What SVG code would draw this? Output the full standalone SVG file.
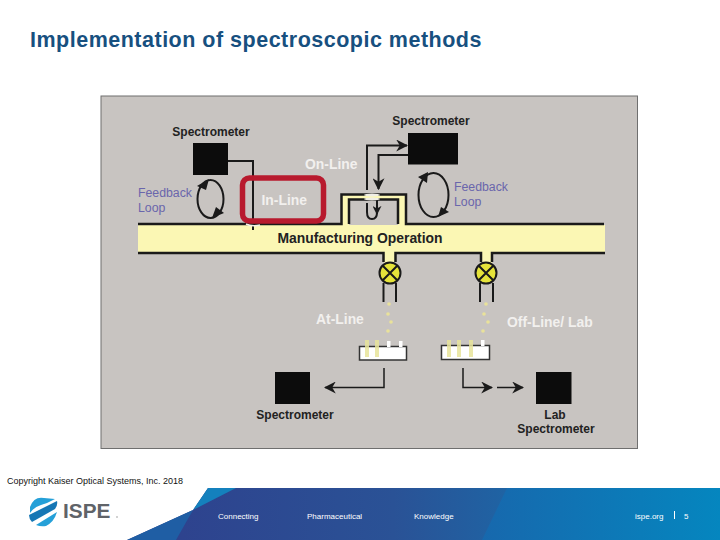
<svg xmlns="http://www.w3.org/2000/svg" width="720" height="540" viewBox="0 0 720 540">
<defs>
<linearGradient id="foot" x1="0" y1="0" x2="1" y2="0"><stop offset="0" stop-color="#2f3f8c"/><stop offset="0.45" stop-color="#2a5296"/><stop offset="1" stop-color="#0a84bd"/></linearGradient>
<linearGradient id="foot2" x1="0" y1="0" x2="1" y2="0"><stop offset="0" stop-color="#1768ad"/><stop offset="1" stop-color="#0586bf"/></linearGradient>
<marker id="ah" viewBox="0 0 10 10" refX="9" refY="5" markerWidth="12" markerHeight="12" markerUnits="userSpaceOnUse" orient="auto"><path d="M0 0L10 5L0 10L3 5Z" fill="#1a1a1a"/></marker>
<marker id="ahs" viewBox="0 0 10 10" refX="9" refY="5" markerWidth="9" markerHeight="9" markerUnits="userSpaceOnUse" orient="auto"><path d="M0 0L10 5L0 10L3 5Z" fill="#1a1a1a"/></marker>
</defs>
<style>
text{font-family:"Liberation Sans",Arial,sans-serif}
.b{font-weight:bold;font-size:12px;fill:#222}
.w{font-weight:bold;font-size:13.900px;fill:#f2f0ee}
.f{font-size:12.300px;fill:#6a66ac}
.ft{font-size:8px;fill:#fff}
.ln{fill:none;stroke:#1a1a1a;stroke-width:2}
.thin{fill:none;stroke:#1a1a1a;stroke-width:1.500}
.pipe{fill:none;stroke:#1a1a1a;stroke-width:2.500}
.box{fill:#0c0c0c}
.drop{fill:#e9e29a}
.tube{fill:#e8e49a;opacity:.85}
.tw{fill:#fff}
</style>
<rect width="720" height="540" fill="#fff"/>
<text x="30" y="47" font-size="21.500" font-weight="bold" fill="#17507f" letter-spacing=".5">Implementation of spectroscopic methods</text>
<rect x="101" y="96" width="536.500" height="352.500" fill="#c8c4c1" stroke="#6f6f6f" stroke-width="1"/>

<g id="manufacturing">
<path d="M138 225H342V195H405V225H605V253H138Z" fill="#fbf7b4"/>
<rect x="349" y="199" width="49" height="26" fill="#c8c4c1"/>
<rect x="384" y="252" width="11" height="12" fill="#fbf7b4"/>
<rect x="482" y="252" width="10" height="12" fill="#fbf7b4"/>
<path class="pipe" d="M138 224H341.500V194.500H406V224H604"/>
<path class="pipe" d="M349 224V199.500H398V224"/>
<path class="pipe" d="M138 253H383.500V262M395.500 262V253H481V262M492 262V253H605"/>
<text x="360" y="243" text-anchor="middle" font-size="13.900" font-weight="bold" fill="#222">Manufacturing Operation</text>
</g>

<g id="valve-left"><circle cx="390" cy="273" r="10.500" fill="#e5e33a" stroke="#1a1a1a" stroke-width="2"/><path class="ln" d="M383 266L397 280M397 266L383 280"/><path class="ln" d="M383.500 283V302M396 283V302"/></g>
<g id="valve-right"><circle cx="486" cy="273" r="10.500" fill="#e5e33a" stroke="#1a1a1a" stroke-width="2"/><path class="ln" d="M479 266L493 280M493 266L479 280"/><path class="ln" d="M480 283V302M493 283V302"/></g>

<g id="connectors">
<path class="ln" d="M228 161H253V230"/>
<path class="ln" d="M367 190V145.500H407" marker-end="url(#ah)"/>
<path class="ln" d="M408 155H378.500V189" marker-end="url(#ah)"/>
<path class="ln" d="M367 203V212Q367 219 372 219T377 212"/>
<path class="ln" d="M377 200V214" marker-end="url(#ahs)"/>
<path class="thin" d="M384 368V387.500H325" marker-end="url(#ah)"/>
<path class="thin" d="M463 368V387.500H492" marker-end="url(#ah)"/>
<path class="thin" d="M497 387.500H523" marker-end="url(#ah)"/>
<path d="M246 224Q252 227 260 225" fill="none" stroke="#f4f2e8" stroke-width="1.500"/>
<ellipse cx="372" cy="195" rx="8" ry="1.500" fill="#f0eee6"/><ellipse cx="372" cy="199" rx="8" ry="1.500" fill="#f0eee6"/>
</g>

<g id="loop-left"><ellipse cx="210.500" cy="199" rx="13" ry="19" class="ln" stroke-width="2.500"/><path d="M197 186L209 179L206 190Z" fill="#1a1a1a"/><path d="M224 213L212 218L216 207Z" fill="#1a1a1a"/></g>
<g id="loop-right"><ellipse cx="433.500" cy="195" rx="15" ry="22" class="ln"/><path d="M418 177L428 172L427 183Z" fill="#1a1a1a"/><path d="M449 212L438 217L441 207Z" fill="#1a1a1a"/></g>

<g id="spectrometer-inline"><rect class="box" x="193" y="143" width="35" height="32"/><text class="b" x="211" y="136" text-anchor="middle">Spectrometer</text></g>
<g id="spectrometer-online"><rect class="box" x="408" y="133" width="50" height="31.500"/><text class="b" x="431" y="125" text-anchor="middle">Spectrometer</text></g>
<g id="spectrometer-atline"><rect class="box" x="275" y="372" width="35" height="32"/><text class="b" x="295" y="419" text-anchor="middle">Spectrometer</text></g>
<g id="spectrometer-lab"><rect class="box" x="536" y="372" width="35.500" height="32"/><text class="b" x="555" y="419" text-anchor="middle">Lab</text><text class="b" x="556" y="433" text-anchor="middle">Spectrometer</text></g>

<g id="feedback-left"><text class="f" x="138" y="197">Feedback</text><text class="f" x="138" y="212">Loop</text></g>
<g id="feedback-right"><text class="f" x="454" y="191">Feedback</text><text class="f" x="454" y="206">Loop</text></g>

<g id="inline-label"><rect x="242.500" y="178" width="81" height="43" rx="7" fill="none" stroke="#b81a2e" stroke-width="5.500"/><text class="w" x="261.500" y="205">In-Line</text></g>
<text class="w" x="305" y="168.500">On-Line</text>
<text class="w" x="316" y="324">At-Line</text>
<text class="w" x="507" y="327">Off-Line/ Lab</text>

<g id="samples-left">
<circle class="drop" cx="389" cy="304" r="1.800"/><circle class="drop" cx="388" cy="314" r="1.800"/><circle class="drop" cx="391" cy="322" r="1.800"/><circle class="drop" cx="388" cy="331" r="1.800"/>
<rect x="359.500" y="346.500" width="47" height="13.500" fill="#fff" stroke="#333" stroke-width="1.500"/>
<rect class="tube" x="365" y="340" width="4" height="17"/><rect class="tube" x="375" y="340" width="4" height="17"/><rect class="tw" x="387" y="341" width="3.500" height="6"/><rect class="tw" x="399" y="341" width="3.500" height="6"/>
</g>
<g id="samples-right">
<circle class="drop" cx="486" cy="304" r="1.800"/><circle class="drop" cx="484" cy="314" r="1.800"/><circle class="drop" cx="488" cy="322" r="1.800"/><circle class="drop" cx="483" cy="331" r="1.800"/>
<rect x="441.500" y="345.500" width="48" height="14" fill="#fff" stroke="#333" stroke-width="1.500"/>
<rect class="tube" x="447" y="340" width="4" height="17"/><rect class="tube" x="457" y="340" width="4" height="17"/><rect class="tube" x="469" y="340" width="4" height="17"/><rect class="tw" x="481" y="340" width="3.500" height="6"/>
</g>

<text x="7" y="484" font-size="9" fill="#111">Copyright Kaiser Optical Systems, Inc. 2018</text>

<g id="footer">
<path d="M127 540L193 510L208 488H720V540Z" fill="url(#foot)"/>
<path d="M193 510L208 488H236Z" fill="#1481bd"/>
<path d="M482 540L507 488H720V540Z" fill="url(#foot2)"/>
<path d="M127 540L193 510L176 540Z" fill="#1f5ea4"/>
<text class="ft" x="218" y="519">Connecting</text>
<text class="ft" x="307" y="519">Pharmaceutical</text>
<text class="ft" x="414" y="519">Knowledge</text>
<text class="ft" x="635" y="519">ispe.org</text>
<rect x="674" y="511" width="1" height="8" fill="#fff"/>
<text class="ft" x="684" y="519">5</text>
</g>

<g id="logo">
<path d="M30 507Q34 496 44 498L55 499Q48 503 41 505Q34 507 30 513Z" fill="#25a0d8"/>
<path d="M29 515L57 501Q58 505 55 509L32 522Q29 519 29 515Z" fill="#1677b5"/>
<path d="M36 525L57 512Q54 522 46 526Q41 527 36 525Z" fill="#25a0d8"/>
<text x="63" y="518" font-size="20.800" font-weight="bold" fill="#5f6368">ISPE</text>
<circle cx="117" cy="517" r=".8" fill="#999"/>
</g>
</svg>
